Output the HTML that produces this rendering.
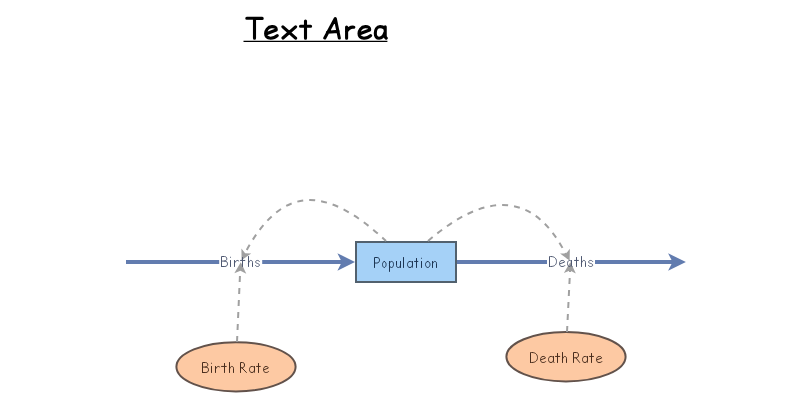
<!DOCTYPE html>
<html><head><meta charset="utf-8"><style>
html,body{margin:0;padding:0;background:#fff;width:800px;height:405px;overflow:hidden;}
svg{display:block;}
</style></head><body>
<svg width="800" height="405" viewBox="0 0 800 405">
<path d="M126,262H342" stroke="#627caf" stroke-width="4" fill="none"/>
<path d="M355.00,262.00L337.40,270.80L341.80,262.00L337.40,253.20Z" fill="#627caf" />
<path d="M457,262H673" stroke="#627caf" stroke-width="4" fill="none"/>
<path d="M685.90,262.00L668.10,270.70L672.55,262.00L668.10,253.30Z" fill="#627caf" />
<rect x="219.2" y="254" width="43" height="16" fill="#fff"/>
<rect x="547" y="254" width="48" height="16" fill="#fff"/>
<rect x="356" y="242" width="100" height="40" fill="#a5d1f7" stroke="#52616e" stroke-width="2"/>
<ellipse cx="236" cy="366.8" rx="59.6" ry="24.6" fill="#fdc9a3" stroke="#62524b" stroke-width="2"/>
<ellipse cx="566" cy="356.7" rx="59.6" ry="24.7" fill="#fdc9a3" stroke="#62524b" stroke-width="2"/>
<path d="M246.8,18.2 L262.2,18.4 M254.5,18.4 L254.5,38.2 M266.4,33.8 L276.2,30.0 C276.6,27.6 274.6,26.5 271.9,26.6 C267.6,26.8 265.6,30.8 265.6,33.6 C265.6,36.8 267.6,38.2 270.6,38.2 C273.2,38.2 275.6,37.2 277.2,35.6 M282.9,26.8 L295.6,38.2 M295.6,26.8 L283.0,38.0 M305.5,21.0 L305.5,38.2 M300.5,26.3 L310.6,26.3 M324.8,38.0 L335.3,18.6 L339.3,38.0 M327.4,32.2 L338.2,31.4 M346.6,27.0 L346.6,38.2 M346.6,31.5 C348.5,28.2 351.0,26.8 353.8,27.2 M359.8,33.8 L369.6,30.0 C370.0,27.6 368.0,26.5 365.3,26.6 C361.0,26.8 359.0,30.8 359.0,33.6 C359.0,36.8 361.0,38.2 364.0,38.2 C366.6,38.2 369.0,37.2 370.6,35.6 M384.6,28.4 C383.4,27.0 381.6,26.6 380.0,26.6 C377.0,26.6 375.3,30.0 375.3,33.2 C375.3,36.4 377.0,38.2 379.2,38.2 C381.6,38.2 383.8,35.8 384.8,32.8 M385.2,26.8 L385.2,36.4 C385.4,37.4 386.0,38.0 386.2,38.2" fill="none" stroke="#000" stroke-width="3.1" stroke-linecap="round" stroke-linejoin="round"/>
<path d="M243.5,41.4H387.4" stroke="#000" stroke-width="1.3"/>
<path d="M386,241C328.7,187.6 282.1,180 243,257" fill="none" stroke="#a0a0a0" stroke-width="2" stroke-dasharray="6 6" stroke-dashoffset="1"/>
<path d="M241.60,260.20L241.40,248.44L245.13,253.25L251.21,253.42Z" fill="#a0a0a0" />
<path d="M428,241C482.4,194.1 533.5,186.2 568,258.5" fill="none" stroke="#a0a0a0" stroke-width="2" stroke-dasharray="6 6"/>
<path d="M569.60,260.40L560.02,253.57L566.10,253.43L569.86,248.64Z" fill="#a0a0a0" />
<path d="M237,342L240.3,268" fill="none" stroke="#a0a0a0" stroke-width="2" stroke-dasharray="6 6"/>
<path d="M240.80,262.20L246.30,273.75L240.43,270.67L234.31,273.23Z" fill="#a0a0a0" />
<path d="M567,332L570.2,268" fill="none" stroke="#a0a0a0" stroke-width="2" stroke-dasharray="6 6"/>
<path d="M570.40,262.00L575.84,273.58L569.99,270.47L563.86,273.00Z" fill="#a0a0a0" />
<path d="M 221.5,266.5 V 256.5 H 224.48 C 226.08,256.5 226.78,257.56 226.78,258.84 C 226.78,260.12 225.78,261.07 224.28,261.07 H 221.5 M 224.28,261.07 H 224.9 C 226.6,261.07 227.5,262.35 227.5,263.84 C 227.5,265.44 226.5,266.5 224.9,266.5 H 221.5 M 230.5,266.5 V 260.44 M 230.5,257.19 V 257.3 M 234.5,266.5 V 260.44 M 234.5,263.31 C 235.2,261.39 236.3,260.44 237.8,260.44 C 238.3,260.44 238.7,260.65 238.7,260.97 M 242.5,257.46 V 266.5 M 240.5,260.44 H 244.8 M 248.5,266.5 V 256.5 M 248.5,262.88 C 249.1,261.18 250,260.44 250.8,260.44 C 251.9,260.44 252.5,261.18 252.5,262.24 V 266.5 M 259.4,261.5 C 258.9,260.7 258.2,260.44 257.45,260.44 C 256.3,260.44 255.65,261.07 255.65,261.93 C 255.65,262.88 256.5,263.2 257.45,263.41 C 258.6,263.73 259.4,264.27 259.4,265.12 C 259.4,266.07 258.4,266.5 257.45,266.5 C 256.5,266.5 255.8,266.18 255.5,265.54" fill="none" stroke="#4f5972" stroke-width="1.0" stroke-linecap="round" stroke-linejoin="round"/>
<path d="M 549.5,266.5 V 256.5 H 550.7 C 555.3,256.5 556.5,259.3 556.5,261.5 C 556.5,264.1 555.1,266.5 550.7,266.5 H 549.5 M 559.8,263.84 L 564.5,262.14 C 564.6,261.07 563.6,260.44 562.2,260.44 C 560.4,260.44 559.5,261.93 559.5,263.52 C 559.5,265.44 560.4,266.5 561.93,266.5 C 563.39,266.5 564.5,266.18 564.9,265.54 M 571.4,261.5 C 570.9,260.76 570.1,260.44 569.5,260.44 C 568.3,260.44 567.5,261.82 567.5,263.52 C 567.5,265.44 568.3,266.5 569.5,266.5 C 570.7,266.5 571.5,265.22 571.5,263.73 M 571.5,260.44 V 265.76 C 571.5,266.29 571.7,266.5 572,266.5 M 576.5,257.46 V 266.5 M 574.5,260.44 H 578.4 M 581.5,266.5 V 256.5 M 581.5,262.88 C 582.1,261.18 583,260.44 583.8,260.44 C 584.9,260.44 585.5,261.18 585.5,262.24 V 266.5 M 592.7,261.5 C 592.2,260.7 591.5,260.44 590.6,260.44 C 589.3,260.44 588.65,261.07 588.65,261.93 C 588.65,262.88 589.5,263.2 590.6,263.41 C 591.9,263.73 592.7,264.27 592.7,265.12 C 592.7,266.07 591.7,266.5 590.6,266.5 C 589.5,266.5 588.8,266.18 588.5,265.54" fill="none" stroke="#4f5972" stroke-width="1.0" stroke-linecap="round" stroke-linejoin="round"/>
<path d="M 374.5,267.5 V 257.5 H 377.1 C 378.8,257.5 379.5,258.67 379.5,260.16 C 379.5,261.76 378.5,263.03 376.9,263.03 H 374.5 M 384.3,261.44 C 383.31,261.44 382.5,262.8 382.5,264.47 C 382.5,266.14 383.31,267.5 384.3,267.5 C 385.29,267.5 386.1,266.14 386.1,264.47 C 386.1,262.8 385.29,261.44 384.3,261.44 M 389.5,271.44 V 261.44 M 389.5,262.93 C 390.1,261.86 391,261.44 391.7,261.44 C 392.9,261.44 393.5,262.82 393.5,264.41 C 393.5,266.44 392.7,267.5 391.5,267.5 C 390.9,267.5 390.1,267.07 389.5,266.22 M 396.5,261.44 V 265.48 C 396.5,266.86 397.2,267.5 398.5,267.5 C 399.7,267.5 400.5,266.54 400.5,265.27 M 400.5,261.44 V 267.5 M 403.5,257.5 V 267.5 M 412.4,262.5 C 411.9,261.76 411.1,261.44 410,261.44 C 408.3,261.44 407.5,262.82 407.5,264.52 C 407.5,266.44 408.3,267.5 410,267.5 C 411.5,267.5 412.5,266.22 412.5,264.73 M 412.5,261.44 V 266.76 C 412.5,267.29 412.7,267.5 412.6,267.5 M 416.5,258.46 V 267.5 M 414.5,261.44 H 417.9 M 421.5,267.5 V 261.44 M 421.5,258.19 V 258.3 M 427.75,261.44 C 426.51,261.44 425.5,262.8 425.5,264.47 C 425.5,266.14 426.51,267.5 427.75,267.5 C 428.99,267.5 430,266.14 430,264.47 C 430,262.8 428.99,261.44 427.75,261.44 M 432.5,267.5 V 261.44 M 432.5,263.67 C 433.1,262.18 433.9,261.44 434.7,261.44 C 435.9,261.44 436.5,262.18 436.5,263.24 V 267.5" fill="none" stroke="#1d3654" stroke-width="1.0" stroke-linecap="round" stroke-linejoin="round"/>
<path d="M 202.5,372.5 V 362.5 H 205.48 C 207.08,362.5 207.78,363.56 207.78,364.84 C 207.78,366.12 206.78,367.07 205.28,367.07 H 202.5 M 205.28,367.07 H 205.9 C 207.6,367.07 208.5,368.35 208.5,369.84 C 208.5,371.44 207.5,372.5 205.9,372.5 H 202.5 M 211.5,372.5 V 366.44 M 211.5,363.19 V 363.3 M 215.5,372.5 V 366.44 M 215.5,369.31 C 216.2,367.39 217.3,366.44 218.7,366.44 C 219.2,366.44 219.6,366.65 219.6,366.97 M 224.5,363.46 V 372.5 M 221.5,366.44 H 226.3 M 229.5,372.5 V 362.5 M 229.5,368.88 C 230.1,367.18 231,366.44 231.8,366.44 C 232.9,366.44 233.5,367.18 233.5,368.24 V 372.5 M 240.5,372.5 V 362.5 H 242.3 C 243.9,362.5 244.5,363.56 244.5,365.05 C 244.5,366.65 243.5,367.82 242.1,367.82 H 240.5 M 241.9,367.82 L 246.4,372.5 M 254.4,367.5 C 253.9,366.76 253.1,366.44 252,366.44 C 250.3,366.44 249.5,367.82 249.5,369.52 C 249.5,371.44 250.3,372.5 252,372.5 C 253.5,372.5 254.5,371.22 254.5,369.73 M 254.5,366.44 V 371.76 C 254.5,372.29 254.7,372.5 254.5,372.5 M 258.5,363.46 V 372.5 M 256.5,366.44 H 260.3 M 263.8,369.84 L 268.2,368.14 C 268.3,367.07 267.3,366.44 266.05,366.44 C 264.4,366.44 263.5,367.93 263.5,369.52 C 263.5,371.44 264.4,372.5 265.79,372.5 C 267.17,372.5 268.2,372.18 268.6,371.54" fill="none" stroke="#4a2e1e" stroke-width="1.0" stroke-linecap="round" stroke-linejoin="round"/>
<path d="M 530.5,362.5 V 352.5 H 531.7 C 536.3,352.5 537.5,355.3 537.5,357.5 C 537.5,360.1 536.1,362.5 531.7,362.5 H 530.5 M 540.8,359.84 L 545.35,358.14 C 545.45,357.07 544.45,356.44 543.12,356.44 C 541.4,356.44 540.5,357.93 540.5,359.52 C 540.5,361.44 541.4,362.5 542.86,362.5 C 544.28,362.5 545.35,362.18 545.75,361.54 M 553.4,357.5 C 552.9,356.76 552.1,356.44 551,356.44 C 549.3,356.44 548.5,357.82 548.5,359.52 C 548.5,361.44 549.3,362.5 551,362.5 C 552.5,362.5 553.5,361.22 553.5,359.73 M 553.5,356.44 V 361.76 C 553.5,362.29 553.7,362.5 554,362.5 M 557.5,353.46 V 362.5 M 555.5,356.44 H 559.75 M 562.5,362.5 V 352.5 M 562.5,358.88 C 563.1,357.18 564,356.44 564.8,356.44 C 565.9,356.44 566.5,357.18 566.5,358.24 V 362.5 M 573.5,362.5 V 352.5 H 576.3 C 577.9,352.5 578.5,353.56 578.5,355.05 C 578.5,356.65 577.5,357.82 576.1,357.82 H 573.5 M 575.9,357.82 L 579.65,362.5 M 587.4,357.5 C 586.9,356.76 586.1,356.44 585,356.44 C 583.3,356.44 582.5,357.82 582.5,359.52 C 582.5,361.44 583.3,362.5 585,362.5 C 586.5,362.5 587.5,361.22 587.5,359.73 M 587.5,356.44 V 361.76 C 587.5,362.29 587.7,362.5 587.5,362.5 M 591.5,353.46 V 362.5 M 589.5,356.44 H 593.5 M 596.8,359.84 L 601.6,358.14 C 601.7,357.07 600.7,356.44 599.25,356.44 C 597.4,356.44 596.5,357.93 596.5,359.52 C 596.5,361.44 597.4,362.5 598.98,362.5 C 600.46,362.5 601.6,362.18 602,361.54" fill="none" stroke="#4a2e1e" stroke-width="1.0" stroke-linecap="round" stroke-linejoin="round"/>
</svg>
</body></html>
